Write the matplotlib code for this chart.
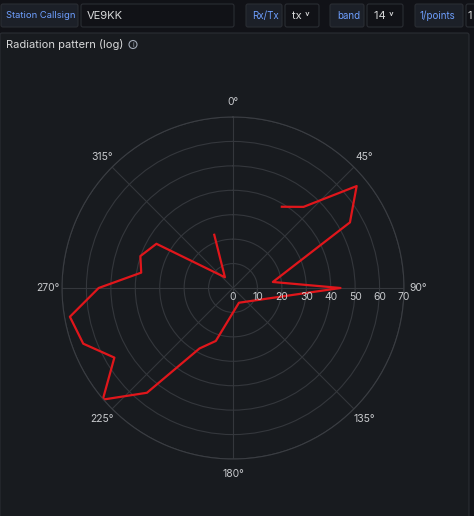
import numpy as np
import matplotlib
matplotlib.use("Agg")
import matplotlib.pyplot as plt
from matplotlib.patches import FancyBboxPatch, Circle

plt.rcParams['font.family'] = ['Inter', 'DejaVu Sans']

angles_deg = [31, 41, 50.5, 60.7, 81.4, 90, 158, 198, 209, 219.4, 229.4, 239.6, 249.6, 260, 270, 279.5, 289, 300, 323, 340.6]
gain = [38.8, 44, 65.6, 54.9, 16.5, 44, 6.5, 22.8, 28.3, 55.5, 70.2, 56.3, 65.4, 67.8, 55, 38.1, 40.1, 36.2, 5.5, 23.1]
r_ticks = [0, 10, 20, 30, 40, 50, 60, 70]
theta_ticks = [0, 45, 90, 135, 180, 225, 270, 315]

W, H = 474, 516
fig = plt.figure(figsize=(W/100, H/100), dpi=100, facecolor="#111217")

def px(x, y, w, h):
    return [x/W, 1-(y+h)/H, w/W, h/H]

bg = fig.add_axes([0, 0, 1, 1]); bg.set_axis_off()
bg.set_xlim(0, W); bg.set_ylim(H, 0)
def box(x, y, w, h, fc, ec="#2a2d33"):
    bg.add_patch(FancyBboxPatch((x, y), w, h, boxstyle="round,pad=0,rounding_size=2", fc=fc, ec=ec, lw=0.8))
# controls
box(1, 4, 77, 23, "#1c2028"); bg.text(6, 16, "Station Callsign", color="#6e9fff", fontsize=6.8, va="center")
box(81, 4, 153, 23, "#111217"); bg.text(87, 16, "VE9KK", color="#d8d9da", fontsize=8, va="center")
box(246, 4, 36, 23, "#1c2028"); bg.text(252, 16, "Rx/Tx", color="#6e9fff", fontsize=7, va="center")
box(285, 4, 34, 23, "#111217"); bg.text(292, 16, "tx ˅", color="#d8d9da", fontsize=8, va="center")
box(330, 4, 34, 23, "#1c2028"); bg.text(337, 16, "band", color="#6e9fff", fontsize=7, va="center")
box(367, 4, 36, 23, "#111217"); bg.text(374, 16, "14 ˅", color="#d8d9da", fontsize=8, va="center")
box(415, 4, 48, 23, "#1c2028"); bg.text(420, 16, "1/points", color="#6e9fff", fontsize=7, va="center")
box(466, 4, 20, 23, "#111217"); bg.text(468, 16, "1", color="#d8d9da", fontsize=8, va="center")
# panel
box(0, 33, 469, 490, "#181b1f", ec="#2a2d33")
bg.text(6, 45, "Radiation pattern (log)", color="#d8d9da", fontsize=8, va="center")
bg.add_patch(Circle((133, 44.5), 4, fc="none", ec="#9fa7b3", lw=0.8))
bg.text(133, 45, "i", color="#9fa7b3", fontsize=5, va="center", ha="center")

R = 171
ax = fig.add_axes(px(233-R, 288-R, 2*R, 2*R), projection="polar")
ax.set_facecolor("none")
ax.set_theta_zero_location("N")
ax.set_theta_direction(-1)
ax.set_ylim(0, 70)
ax.set_yticks(r_ticks)
ax.set_yticklabels([])
ax.set_xticks(np.deg2rad(theta_ticks))
ax.set_xticklabels([f"{t}°" for t in theta_ticks], color="#c7c9cc", fontsize=7.5)
ax.tick_params(axis="x", pad=0)
ax.grid(color="#34373c", lw=0.8)
ax.spines["polar"].set_color("#3a3d42")
for r in r_ticks:
    ax.text(np.pi/2, r, str(r), color="#c7c9cc", fontsize=7.5, ha="center", va="top",
            transform=ax.transData + matplotlib.transforms.ScaledTranslation(0, -3/72, fig.dpi_scale_trans))
ax.plot(np.deg2rad(angles_deg), gain, color="#e0161b", lw=1.6)

fig.savefig("out.png", dpi=100, facecolor=fig.get_facecolor())
